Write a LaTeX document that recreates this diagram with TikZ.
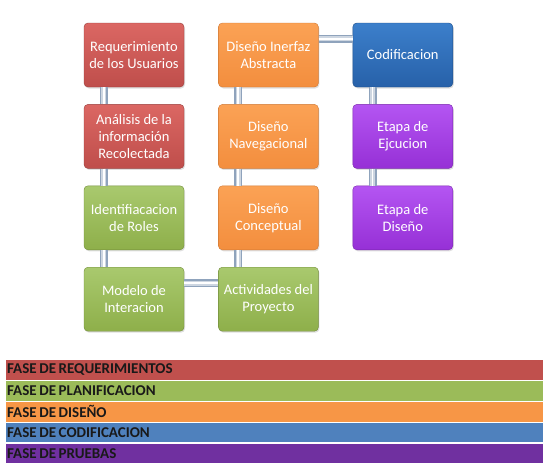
\documentclass[tikz,border=0pt]{standalone}
\usepackage{fontspec}
\setmainfont{Carlito}
\usetikzlibrary{positioning, shadows}

\definecolor{redtop}{HTML}{DB6763}
\definecolor{redbot}{HTML}{BF4E4B}
\definecolor{greentop}{HTML}{A9C96E}
\definecolor{greenbot}{HTML}{8EAF4A}
\definecolor{orangetop}{HTML}{FBA255}
\definecolor{orangebot}{HTML}{F38E3E}
\definecolor{bluetop}{HTML}{3C7FCB}
\definecolor{bluebot}{HTML}{2761A9}
\definecolor{purpletop}{HTML}{B455F2}
\definecolor{purplebot}{HTML}{9630D6}
\definecolor{pipecol}{HTML}{8FA3BC}
\definecolor{legred}{HTML}{C0504D}
\definecolor{leggreen}{HTML}{9BBB59}
\definecolor{legorange}{HTML}{F79646}
\definecolor{legblue}{HTML}{4F81BD}
\definecolor{legpurple}{HTML}{7030A0}

\newcommand\tightspace{\spaceskip=2.6pt plus 1pt\relax}

\begin{document}
\begin{tikzpicture}[
  x=1pt, y=1pt,
  node distance=17pt and 34pt,
  box/.style={rectangle, rounded corners=4pt, align=center, text=white,
    minimum width=100pt, minimum height=64pt, inner sep=2pt,
    font=\fontsize{14.5}{17}\selectfont, drop shadow={opacity=0.25, shadow xshift=1pt, shadow yshift=-1.5pt}},
  redbox/.style={box, top color=redtop, bottom color=redbot, draw=redbot!80!black},
  greenbox/.style={box, top color=greentop, bottom color=greenbot, draw=greenbot!80!black},
  orangebox/.style={box, top color=orangetop, bottom color=orangebot, draw=orangebot!85!black},
  bluebox/.style={box, top color=bluetop, bottom color=bluebot, draw=bluebot!80!black},
  purplebox/.style={box, top color=purpletop, bottom color=purplebot, draw=purplebot!80!black},
  pipe/.style={line width=8pt, draw=pipecol,
    postaction={draw=pipecol!45, line width=5pt},
    postaction={draw=white, line width=1.5pt}},
  legbar/.style={rectangle, anchor=north west, minimum width=537pt, text width=535pt,
    minimum height=19.5pt, inner sep=1pt, align=left, text=black!90,
    font=\bfseries\fontsize{15}{16}\selectfont, execute at begin node=\tightspace}
]
\useasboundingbox (0,0) rectangle (555,-464);

% column 1
\node[redbox] (req) at (134,-55) {Requerimiento\\de los Usuarios};
\node[redbox, below=of req] (ana) {Análisis de la\\información\\Recolectada};
\node[greenbox, below=of ana] (rol) {Identifiacacion\\de Roles};
\node[greenbox, below=of rol] (mod) {Modelo de\\Interacion};
% column 2
\node[orangebox, right=of req] (abs) {Diseño Inerfaz\\Abstracta};
\node[orangebox, below=of abs] (nav) {Diseño\\Navegacional};
\node[orangebox, below=of nav] (con) {Diseño\\Conceptual};
\node[greenbox, below=of con] (act) {Actividades del\\Proyecto};
% column 3
\node[bluebox, right=of abs] (cod) {Codificacion};
\node[purplebox, below=of cod] (eje) {Etapa de\\Ejcucion};
\node[purplebox, below=of eje] (dis) {Etapa de\\Diseño};

% pipes
\draw[pipe] ([xshift=20pt]req.south west) -- ([xshift=20pt]ana.north west);
\draw[pipe] ([xshift=20pt]ana.south west) -- ([xshift=20pt]rol.north west);
\draw[pipe] ([xshift=20pt]rol.south west) -- ([xshift=20pt]mod.north west);
\draw[pipe] ([yshift=-16pt]mod.north east) -- ([yshift=-16pt]act.north west);
\draw[pipe] ([xshift=20pt]act.north west) -- ([xshift=20pt]con.south west);
\draw[pipe] ([xshift=20pt]con.north west) -- ([xshift=20pt]nav.south west);
\draw[pipe] ([xshift=20pt]nav.north west) -- ([xshift=20pt]abs.south west);
\draw[pipe] ([yshift=-16pt]abs.north east) -- ([yshift=-16pt]cod.north west);
\draw[pipe] ([xshift=20pt]cod.south west) -- ([xshift=20pt]eje.north west);
\draw[pipe] ([xshift=20pt]eje.south west) -- ([xshift=20pt]dis.north west);

% legend
\node[legbar, fill=legred] (freq) at (6,-360) {FASE DE REQUERIMIENTOS};
\node[legbar, fill=leggreen, below=1pt of freq.south west, anchor=north west] (fpla) {FASE DE PLANIFICACION};
\node[legbar, fill=legorange, below=1pt of fpla.south west, anchor=north west] (fdis) {FASE DE DISEÑO};
\node[legbar, fill=legblue, below=1pt of fdis.south west, anchor=north west] (fcod) {FASE DE CODIFICACION};
\node[legbar, fill=legpurple, below=1pt of fcod.south west, anchor=north west] (fpru) {FASE DE PRUEBAS};
\end{tikzpicture}
\end{document}
